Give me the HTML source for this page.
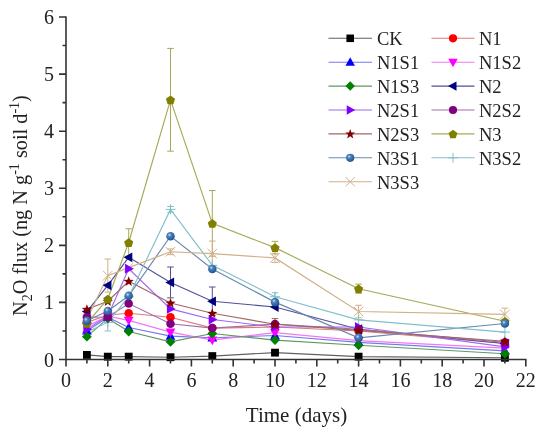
<!DOCTYPE html><html><head><meta charset="utf-8"><style>html,body{margin:0;padding:0;background:#fff;width:550px;height:433px;overflow:hidden}svg{display:block;will-change:transform}text{font-family:"Liberation Serif",serif;fill:#222}</style></head><body><svg width="550" height="433" viewBox="0 0 550 433"><defs><radialGradient id="sph" cx="0.38" cy="0.35" r="0.7"><stop offset="0" stop-color="#cfe0f0"/><stop offset="0.3" stop-color="#4a82bb"/><stop offset="1" stop-color="#1f4f88"/></radialGradient></defs><polyline points="86.90,354.93 107.80,356.65 128.70,356.65 170.50,357.22 212.30,356.08 275.00,352.65 358.60,356.65 504.90,357.79" fill="none" stroke="#606060" stroke-width="1.15"/><polyline points="86.90,322.40 107.80,314.98 128.70,313.27 170.50,317.26 212.30,328.11 275.00,326.96 358.60,330.96 504.90,343.52" fill="none" stroke="#e07878" stroke-width="1.15"/><polyline points="86.90,330.96 107.80,317.26 128.70,327.54 170.50,336.10 212.30,337.81 275.00,335.53 358.60,342.38 504.90,350.94" fill="none" stroke="#7878f0" stroke-width="1.15"/><polyline points="86.90,326.39 107.80,316.12 128.70,320.40 170.50,332.10 212.30,340.09 275.00,332.67 358.60,340.66 504.90,348.08" fill="none" stroke="#f078f0" stroke-width="1.15"/><polyline points="86.90,336.67 107.80,318.40 128.70,331.53 170.50,341.81 212.30,333.53 275.00,340.09 358.60,345.23 504.90,353.79" fill="none" stroke="#609860" stroke-width="1.15"/><polyline points="86.90,311.55 107.80,285.30 128.70,257.33 170.50,282.44 212.30,301.28 275.00,306.99 358.60,329.25 504.90,343.52" fill="none" stroke="#505098" stroke-width="1.15"/><polyline points="86.90,329.25 107.80,316.12 128.70,268.74 170.50,308.93 212.30,319.54 275.00,326.96 358.60,326.96 504.90,346.94" fill="none" stroke="#a068f0" stroke-width="1.15"/><polyline points="86.90,317.26 107.80,316.98 128.70,303.56 170.50,323.71 212.30,328.11 275.00,324.11 358.60,329.25 504.90,342.38" fill="none" stroke="#a070a8" stroke-width="1.15"/><polyline points="86.90,309.27 107.80,301.28 128.70,281.30 170.50,302.99 212.30,313.27 275.00,324.28 358.60,330.39 504.90,341.23" fill="none" stroke="#a06868" stroke-width="1.15"/><polyline points="86.90,323.25 107.80,299.00 128.70,242.49 170.50,99.79 212.30,223.36 275.00,247.62 358.60,288.72 504.90,321.26" fill="none" stroke="#a8a858" stroke-width="1.15"/><polyline points="86.90,320.69 107.80,310.98 128.70,295.80 170.50,236.21 212.30,268.91 275.00,302.13 358.60,337.81 504.90,323.54" fill="none" stroke="#6a88b0" stroke-width="1.15"/><polyline points="86.90,332.10 107.80,322.40 128.70,296.71 170.50,209.38 212.30,265.32 275.00,296.71 358.60,319.83 504.90,332.10" fill="none" stroke="#80c0cc" stroke-width="1.15"/><polyline points="86.90,319.54 107.80,275.59 128.70,267.60 170.50,251.79 212.30,253.62 275.00,257.90 358.60,311.55 504.90,314.41" fill="none" stroke="#d0b088" stroke-width="1.15"/><path d="M170.50 267.03V297.85M167.20 267.03H173.80M167.20 297.85H173.80" stroke="#505098" stroke-width="1" fill="none"/><path d="M212.30 287.01V315.55M209.00 287.01H215.60M209.00 315.55H215.60" stroke="#505098" stroke-width="1" fill="none"/><path d="M275.00 318.57V329.99M271.70 318.57H278.30M271.70 329.99H278.30" stroke="#a06868" stroke-width="1" fill="none"/><path d="M128.70 228.79V256.19M125.40 228.79H132.00M125.40 256.19H132.00" stroke="#a8a858" stroke-width="1" fill="none"/><path d="M170.50 48.41V151.16M167.20 48.41H173.80M167.20 151.16H173.80" stroke="#a8a858" stroke-width="1" fill="none"/><path d="M212.30 190.54V256.19M209.00 190.54H215.60M209.00 256.19H215.60" stroke="#a8a858" stroke-width="1" fill="none"/><path d="M275.00 241.34V253.90M271.70 241.34H278.30M271.70 253.90H278.30" stroke="#a8a858" stroke-width="1" fill="none"/><path d="M358.60 284.15V293.29M355.30 284.15H361.90M355.30 293.29H361.90" stroke="#a8a858" stroke-width="1" fill="none"/><path d="M107.80 313.84V330.96M104.50 313.84H111.10M104.50 330.96H111.10" stroke="#80c0cc" stroke-width="1" fill="none"/><path d="M170.50 206.53V212.23M167.20 206.53H173.80M167.20 212.23H173.80" stroke="#80c0cc" stroke-width="1" fill="none"/><path d="M275.00 292.72V300.71M271.70 292.72H278.30M271.70 300.71H278.30" stroke="#80c0cc" stroke-width="1" fill="none"/><path d="M107.80 259.04V292.15M104.50 259.04H111.10M104.50 292.15H111.10" stroke="#d0b088" stroke-width="1" fill="none"/><path d="M170.50 248.94V254.64M167.20 248.94H173.80M167.20 254.64H173.80" stroke="#d0b088" stroke-width="1" fill="none"/><path d="M212.30 241.06V266.17M209.00 241.06H215.60M209.00 266.17H215.60" stroke="#d0b088" stroke-width="1" fill="none"/><path d="M275.00 253.33V262.46M271.70 253.33H278.30M271.70 262.46H278.30" stroke="#d0b088" stroke-width="1" fill="none"/><path d="M358.60 305.27V317.83M355.30 305.27H361.90M355.30 317.83H361.90" stroke="#d0b088" stroke-width="1" fill="none"/><path d="M504.90 308.13V320.69M501.60 308.13H508.20M501.60 320.69H508.20" stroke="#d0b088" stroke-width="1" fill="none"/><path d="M81.86 332.10H91.94M86.90 327.06V337.14" stroke="#80c0c4" stroke-width="1" fill="none"/><path d="M102.76 322.40H112.84M107.80 317.36V327.44" stroke="#80c0c4" stroke-width="1" fill="none"/><path d="M123.66 296.71H133.74M128.70 291.67V301.75" stroke="#80c0c4" stroke-width="1" fill="none"/><path d="M165.46 209.38H175.54M170.50 204.34V214.42" stroke="#80c0c4" stroke-width="1" fill="none"/><path d="M207.26 265.32H217.34M212.30 260.28V270.36" stroke="#80c0c4" stroke-width="1" fill="none"/><path d="M269.96 296.71H280.04M275.00 291.67V301.75" stroke="#80c0c4" stroke-width="1" fill="none"/><path d="M353.56 319.83H363.64M358.60 314.79V324.87" stroke="#80c0c4" stroke-width="1" fill="none"/><path d="M499.86 332.10H509.94M504.90 327.06V337.14" stroke="#80c0c4" stroke-width="1" fill="none"/><path d="M82.08 314.73L91.72 324.36M82.08 324.36L91.72 314.73" stroke="#d0b090" stroke-width="1" fill="none"/><path d="M102.98 270.78L112.62 280.41M102.98 280.41L112.62 270.78" stroke="#d0b090" stroke-width="1" fill="none"/><path d="M123.88 262.79L133.52 272.42M123.88 272.42L133.52 262.79" stroke="#d0b090" stroke-width="1" fill="none"/><path d="M165.68 246.97L175.32 256.61M165.68 256.61L175.32 246.97" stroke="#d0b090" stroke-width="1" fill="none"/><path d="M207.48 248.80L217.12 258.43M207.48 258.43L217.12 248.80" stroke="#d0b090" stroke-width="1" fill="none"/><path d="M270.18 253.08L279.82 262.71M270.18 262.71L279.82 253.08" stroke="#d0b090" stroke-width="1" fill="none"/><path d="M353.78 306.74L363.42 316.37M353.78 316.37L363.42 306.74" stroke="#d0b090" stroke-width="1" fill="none"/><path d="M500.08 309.59L509.72 319.22M500.08 319.22L509.72 309.59" stroke="#d0b090" stroke-width="1" fill="none"/><rect x="82.98" y="351.01" width="7.84" height="7.84" fill="#000000"/><rect x="103.88" y="352.73" width="7.84" height="7.84" fill="#000000"/><rect x="124.78" y="352.73" width="7.84" height="7.84" fill="#000000"/><rect x="166.58" y="353.30" width="7.84" height="7.84" fill="#000000"/><rect x="208.38" y="352.16" width="7.84" height="7.84" fill="#000000"/><rect x="271.08" y="348.73" width="7.84" height="7.84" fill="#000000"/><rect x="354.68" y="352.73" width="7.84" height="7.84" fill="#000000"/><rect x="500.98" y="353.87" width="7.84" height="7.84" fill="#000000"/><circle cx="86.90" cy="322.40" r="4.26" fill="#ff0000"/><circle cx="107.80" cy="314.98" r="4.26" fill="#ff0000"/><circle cx="128.70" cy="313.27" r="4.26" fill="#ff0000"/><circle cx="170.50" cy="317.26" r="4.26" fill="#ff0000"/><circle cx="212.30" cy="328.11" r="4.26" fill="#ff0000"/><circle cx="275.00" cy="326.96" r="4.26" fill="#ff0000"/><circle cx="358.60" cy="330.96" r="4.26" fill="#ff0000"/><circle cx="504.90" cy="343.52" r="4.26" fill="#ff0000"/><polygon points="86.90,325.81 91.79,334.57 82.01,334.57" fill="#0000ff"/><polygon points="107.80,312.11 112.69,320.87 102.91,320.87" fill="#0000ff"/><polygon points="128.70,322.38 133.59,331.14 123.81,331.14" fill="#0000ff"/><polygon points="170.50,330.95 175.39,339.70 165.61,339.70" fill="#0000ff"/><polygon points="212.30,332.66 217.19,341.42 207.41,341.42" fill="#0000ff"/><polygon points="275.00,330.37 279.89,339.13 270.11,339.13" fill="#0000ff"/><polygon points="358.60,337.22 363.49,345.98 353.71,345.98" fill="#0000ff"/><polygon points="504.90,345.79 509.79,354.54 500.01,354.54" fill="#0000ff"/><polygon points="86.90,331.55 91.79,322.79 82.01,322.79" fill="#ff00ff"/><polygon points="107.80,321.27 112.69,312.51 102.91,312.51" fill="#ff00ff"/><polygon points="128.70,325.55 133.59,316.79 123.81,316.79" fill="#ff00ff"/><polygon points="170.50,337.25 175.39,328.50 165.61,328.50" fill="#ff00ff"/><polygon points="212.30,345.24 217.19,336.49 207.41,336.49" fill="#ff00ff"/><polygon points="275.00,337.82 279.89,329.07 270.11,329.07" fill="#ff00ff"/><polygon points="358.60,345.82 363.49,337.06 353.71,337.06" fill="#ff00ff"/><polygon points="504.90,353.24 509.79,344.48 500.01,344.48" fill="#ff00ff"/><polygon points="86.90,331.74 91.83,336.67 86.90,341.60 81.97,336.67" fill="#008000"/><polygon points="107.80,313.47 112.73,318.40 107.80,323.33 102.87,318.40" fill="#008000"/><polygon points="128.70,326.60 133.63,331.53 128.70,336.46 123.77,331.53" fill="#008000"/><polygon points="170.50,336.88 175.43,341.81 170.50,346.73 165.57,341.81" fill="#008000"/><polygon points="212.30,328.60 217.23,333.53 212.30,338.46 207.37,333.53" fill="#008000"/><polygon points="275.00,335.16 279.93,340.09 275.00,345.02 270.07,340.09" fill="#008000"/><polygon points="358.60,340.30 363.53,345.23 358.60,350.16 353.67,345.23" fill="#008000"/><polygon points="504.90,348.86 509.83,353.79 504.90,358.72 499.97,353.79" fill="#008000"/><polygon points="81.75,311.55 90.51,316.45 90.51,306.66" fill="#000080"/><polygon points="102.65,285.30 111.41,290.19 111.41,280.40" fill="#000080"/><polygon points="123.55,257.33 132.31,262.22 132.31,252.43" fill="#000080"/><polygon points="165.35,282.44 174.11,287.34 174.11,277.55" fill="#000080"/><polygon points="207.15,301.28 215.91,306.17 215.91,296.38" fill="#000080"/><polygon points="269.85,306.99 278.61,311.88 278.61,302.09" fill="#000080"/><polygon points="353.45,329.25 362.21,334.14 362.21,324.35" fill="#000080"/><polygon points="499.75,343.52 508.51,348.41 508.51,338.62" fill="#000080"/><polygon points="92.05,329.25 83.29,334.14 83.29,324.35" fill="#8000ff"/><polygon points="112.95,316.12 104.19,321.01 104.19,311.22" fill="#8000ff"/><polygon points="133.85,268.74 125.09,273.64 125.09,263.85" fill="#8000ff"/><polygon points="175.65,308.93 166.89,313.82 166.89,304.03" fill="#8000ff"/><polygon points="217.45,319.54 208.69,324.44 208.69,314.65" fill="#8000ff"/><polygon points="280.15,326.96 271.39,331.86 271.39,322.07" fill="#8000ff"/><polygon points="363.75,326.96 354.99,331.86 354.99,322.07" fill="#8000ff"/><polygon points="510.05,346.94 501.29,351.84 501.29,342.05" fill="#8000ff"/><circle cx="86.90" cy="317.26" r="4.26" fill="#800080"/><circle cx="107.80" cy="316.98" r="4.26" fill="#800080"/><circle cx="128.70" cy="303.56" r="4.26" fill="#800080"/><circle cx="170.50" cy="323.71" r="4.26" fill="#800080"/><circle cx="212.30" cy="328.11" r="4.26" fill="#800080"/><circle cx="275.00" cy="324.11" r="4.26" fill="#800080"/><circle cx="358.60" cy="329.25" r="4.26" fill="#800080"/><circle cx="504.90" cy="342.38" r="4.26" fill="#800080"/><polygon points="86.90,304.19 88.22,307.76 92.01,307.91 89.03,310.26 90.06,313.92 86.90,311.81 83.74,313.92 84.77,310.26 81.79,307.91 85.58,307.76" fill="#800000"/><polygon points="107.80,296.20 109.12,299.77 112.91,299.92 109.93,302.27 110.96,305.93 107.80,303.82 104.64,305.93 105.67,302.27 102.69,299.92 106.48,299.77" fill="#800000"/><polygon points="128.70,276.22 130.02,279.79 133.81,279.94 130.83,282.29 131.86,285.95 128.70,283.84 125.54,285.95 126.57,282.29 123.59,279.94 127.38,279.79" fill="#800000"/><polygon points="170.50,297.91 171.82,301.48 175.61,301.63 172.63,303.98 173.66,307.64 170.50,305.53 167.34,307.64 168.37,303.98 165.39,301.63 169.18,301.48" fill="#800000"/><polygon points="212.30,308.19 213.62,311.75 217.41,311.90 214.43,314.26 215.46,317.91 212.30,315.81 209.14,317.91 210.17,314.26 207.19,311.90 210.98,311.75" fill="#800000"/><polygon points="275.00,319.21 276.32,322.77 280.11,322.92 277.13,325.27 278.16,328.93 275.00,326.82 271.84,328.93 272.87,325.27 269.89,322.92 273.68,322.77" fill="#800000"/><polygon points="358.60,325.31 359.92,328.88 363.71,329.03 360.73,331.38 361.76,335.04 358.60,332.93 355.44,335.04 356.47,331.38 353.49,329.03 357.28,328.88" fill="#800000"/><polygon points="504.90,336.16 506.22,339.72 510.01,339.87 507.03,342.23 508.06,345.88 504.90,343.77 501.74,345.88 502.77,342.23 499.79,339.87 503.58,339.72" fill="#800000"/><polygon points="86.90,318.94 91.48,322.27 89.73,327.65 84.07,327.65 82.32,322.27" fill="#808000"/><polygon points="107.80,294.68 112.38,298.01 110.63,303.39 104.97,303.39 103.22,298.01" fill="#808000"/><polygon points="128.70,238.17 133.28,241.50 131.53,246.88 125.87,246.88 124.12,241.50" fill="#808000"/><polygon points="170.50,95.47 175.08,98.80 173.33,104.18 167.67,104.18 165.92,98.80" fill="#808000"/><polygon points="212.30,219.05 216.88,222.38 215.13,227.76 209.47,227.76 207.72,222.38" fill="#808000"/><polygon points="275.00,243.31 279.58,246.63 277.83,252.02 272.17,252.02 270.42,246.63" fill="#808000"/><polygon points="358.60,284.40 363.18,287.73 361.43,293.12 355.77,293.12 354.02,287.73" fill="#808000"/><polygon points="504.90,316.94 509.48,320.27 507.73,325.65 502.07,325.65 500.32,320.27" fill="#808000"/><circle cx="86.90" cy="320.69" r="4.26" fill="url(#sph)"/><circle cx="107.80" cy="310.98" r="4.26" fill="url(#sph)"/><circle cx="128.70" cy="295.80" r="4.26" fill="url(#sph)"/><circle cx="170.50" cy="236.21" r="4.26" fill="url(#sph)"/><circle cx="212.30" cy="268.91" r="4.26" fill="url(#sph)"/><circle cx="275.00" cy="302.13" r="4.26" fill="url(#sph)"/><circle cx="358.60" cy="337.81" r="4.26" fill="url(#sph)"/><circle cx="504.90" cy="323.54" r="4.26" fill="url(#sph)"/><path d="M66 16.5V359.5H526.5" stroke="#333" stroke-width="1.6" fill="none"/><path d="M66.00 359.5V366.5M86.90 359.5V363.5M107.80 359.5V366.5M128.70 359.5V363.5M149.60 359.5V366.5M170.50 359.5V363.5M191.40 359.5V366.5M212.30 359.5V363.5M233.20 359.5V366.5M254.10 359.5V363.5M275.00 359.5V366.5M295.90 359.5V363.5M316.80 359.5V366.5M337.70 359.5V363.5M358.60 359.5V366.5M379.50 359.5V363.5M400.40 359.5V366.5M421.30 359.5V363.5M442.20 359.5V366.5M463.10 359.5V363.5M484.00 359.5V366.5M504.90 359.5V363.5M525.80 359.5V366.5M66 359.50H59M66 330.96H62.5M66 302.42H59M66 273.88H62.5M66 245.34H59M66 216.80H62.5M66 188.26H59M66 159.72H62.5M66 131.18H59M66 102.64H62.5M66 74.10H59M66 45.56H62.5M66 17.02H59" stroke="#333" stroke-width="1.6" fill="none"/><text x="66.00" y="387" font-size="20" text-anchor="middle">0</text><text x="107.80" y="387" font-size="20" text-anchor="middle">2</text><text x="149.60" y="387" font-size="20" text-anchor="middle">4</text><text x="191.40" y="387" font-size="20" text-anchor="middle">6</text><text x="233.20" y="387" font-size="20" text-anchor="middle">8</text><text x="275.00" y="387" font-size="20" text-anchor="middle">10</text><text x="316.80" y="387" font-size="20" text-anchor="middle">12</text><text x="358.60" y="387" font-size="20" text-anchor="middle">14</text><text x="400.40" y="387" font-size="20" text-anchor="middle">16</text><text x="442.20" y="387" font-size="20" text-anchor="middle">18</text><text x="484.00" y="387" font-size="20" text-anchor="middle">20</text><text x="525.80" y="387" font-size="20" text-anchor="middle">22</text><text x="54" y="366.50" font-size="20" text-anchor="end">0</text><text x="54" y="309.42" font-size="20" text-anchor="end">1</text><text x="54" y="252.34" font-size="20" text-anchor="end">2</text><text x="54" y="195.26" font-size="20" text-anchor="end">3</text><text x="54" y="138.18" font-size="20" text-anchor="end">4</text><text x="54" y="81.10" font-size="20" text-anchor="end">5</text><text x="54" y="24.02" font-size="20" text-anchor="end">6</text><text x="296.5" y="422" font-size="21" text-anchor="middle">Time (days)</text><text transform="translate(27,205.5) rotate(-90)" font-size="20.3" text-anchor="middle">N<tspan font-size="14" dy="5">2</tspan><tspan dy="-5">O flux (ng N g</tspan><tspan font-size="14" dy="-8">-1</tspan><tspan dy="8"> soil d</tspan><tspan font-size="14" dy="-8">-1</tspan><tspan dy="8">)</tspan></text><path d="M328.5 38.30H372" stroke="#606060" stroke-width="1.1"/><rect x="346.42" y="34.52" width="7.56" height="7.56" fill="#000000"/><text x="377" y="45.30" font-size="18.5">CK</text><path d="M431.5 38.30H474.5" stroke="#e07878" stroke-width="1.1"/><circle cx="453.00" cy="38.30" r="4.10" fill="#ff0000"/><text x="479" y="45.30" font-size="18.5">N1</text><path d="M328.5 62.20H372" stroke="#7878f0" stroke-width="1.1"/><polygon points="350.20,57.23 354.92,65.68 345.48,65.68" fill="#0000ff"/><text x="377" y="69.20" font-size="18.5">N1S1</text><path d="M431.5 62.20H474.5" stroke="#f078f0" stroke-width="1.1"/><polygon points="453.00,67.17 457.72,58.72 448.28,58.72" fill="#ff00ff"/><text x="479" y="69.20" font-size="18.5">N1S2</text><path d="M328.5 86.10H372" stroke="#609860" stroke-width="1.1"/><polygon points="350.20,81.35 354.95,86.10 350.20,90.85 345.45,86.10" fill="#008000"/><text x="377" y="93.10" font-size="18.5">N1S3</text><path d="M431.5 86.10H474.5" stroke="#505098" stroke-width="1.1"/><polygon points="448.03,86.10 456.48,90.82 456.48,81.38" fill="#000080"/><text x="479" y="93.10" font-size="18.5">N2</text><path d="M328.5 110.00H372" stroke="#a068f0" stroke-width="1.1"/><polygon points="355.17,110.00 346.72,114.72 346.72,105.28" fill="#8000ff"/><text x="377" y="117.00" font-size="18.5">N2S1</text><path d="M431.5 110.00H474.5" stroke="#a070a8" stroke-width="1.1"/><circle cx="453.00" cy="110.00" r="4.10" fill="#800080"/><text x="479" y="117.00" font-size="18.5">N2S2</text><path d="M328.5 133.90H372" stroke="#a06868" stroke-width="1.1"/><polygon points="350.20,129.02 351.47,132.45 355.13,132.60 352.25,134.87 353.25,138.39 350.20,136.36 347.15,138.39 348.15,134.87 345.27,132.60 348.93,132.45" fill="#800000"/><text x="377" y="140.90" font-size="18.5">N2S3</text><path d="M431.5 133.90H474.5" stroke="#a8a858" stroke-width="1.1"/><polygon points="453.00,129.76 457.42,132.96 455.73,138.16 450.27,138.16 448.58,132.96" fill="#808000"/><text x="479" y="140.90" font-size="18.5">N3</text><path d="M328.5 157.80H372" stroke="#6a88b0" stroke-width="1.1"/><circle cx="350.20" cy="157.80" r="4.10" fill="url(#sph)"/><text x="377" y="164.80" font-size="18.5">N3S1</text><path d="M431.5 157.80H474.5" stroke="#80c0cc" stroke-width="1.1"/><path d="M448.14 157.80H457.86M453.00 152.94V162.66" stroke="#80c0c4" stroke-width="1" fill="none"/><text x="479" y="164.80" font-size="18.5">N3S2</text><path d="M328.5 181.70H372" stroke="#d0b088" stroke-width="1.1"/><path d="M345.56 177.06L354.84 186.34M345.56 186.34L354.84 177.06" stroke="#d0b090" stroke-width="1" fill="none"/><text x="377" y="188.70" font-size="18.5">N3S3</text></svg></body></html>
